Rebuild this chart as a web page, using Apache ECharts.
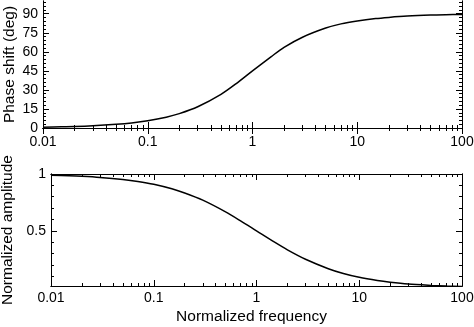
<!DOCTYPE html>
<html>
<head>
<meta charset="utf-8">
<script src="https://cdn.jsdelivr.net/npm/echarts@6/dist/echarts.min.js"></script>
<style>
    html, body { margin: 0; padding: 0; background: #fff; }
    #main { width: 474px; height: 327px; }
</style>
</head>
<body>
<div id="main"></div>
<script>
// normalized frequency samples
const freq = [0.01, 0.015, 0.02, 0.03, 0.05, 0.07, 0.1, 0.15, 0.2, 0.3, 0.5, 0.7, 1,
    1.5, 2, 3, 5, 7, 10, 15, 20, 30, 50, 70, 100];
// phase shift in degrees
const phase = [0.6, 0.9, 1.1, 1.7, 2.9, 4, 5.7, 8.5, 11.3, 16.7, 26.5, 35, 45,
    56, 63.5, 71.5, 78.7, 82, 84.3, 86.2, 87.1, 88.1, 88.9, 89.2, 89.4];
// normalized amplitude
const amplitude = [0.99, 0.985, 0.98, 0.97, 0.952, 0.935, 0.91, 0.87, 0.833, 0.77, 0.667, 0.588, 0.5,
    0.4, 0.333, 0.25, 0.167, 0.125, 0.091, 0.063, 0.048, 0.032, 0.02, 0.014, 0.01];

// tick values
const freqMajor = [0.01, 0.1, 1, 10, 100];
const freqMinor = [];
[0.01, 0.1, 1, 10].forEach(function (d) {
    for (let k = 2; k <= 9; k++) freqMinor.push(+(k * d).toPrecision(3));
});
const phaseMajor = [0, 15, 30, 45, 60, 75, 90];
const phaseMinor = [];
for (let v = 3; v < 100; v += 3) {
    if (v % 15 !== 0) phaseMinor.push(v);
}
const ampMajor = [0.5, 1];
const ampMinor = [0.1, 0.2, 0.3, 0.4, 0.6, 0.7, 0.8, 0.9];

const font = "'Liberation Sans', Arial, sans-serif";
const ink = '#000';

function xAxis(grid, pos, ticks, len, labels, extra) {
    return Object.assign({
        type: 'log',
        logBase: 10,
        gridIndex: grid,
        position: pos,
        min: 0.01,
        max: 100,
        axisLine: { show: true, lineStyle: { color: ink, width: 1 } },
        axisTick: { show: true, inside: true, length: len, customValues: ticks, lineStyle: { color: ink } },
        axisLabel: labels ? { show: true, customValues: freqMajor, color: ink, fontSize: 14, fontFamily: font, margin: labels,
            formatter: function (v) { return String(v); } } : { show: false },
        splitLine: { show: false },
        minorTick: { show: false }
    }, extra || {});
}

function yAxis(grid, pos, min, max, ticks, len, labels, extra) {
    return Object.assign({
        type: 'value',
        gridIndex: grid,
        position: pos,
        min: min,
        max: max,
        axisLine: { show: true, lineStyle: { color: ink, width: 1 } },
        axisTick: { show: true, inside: true, length: len, customValues: ticks, lineStyle: { color: ink } },
        axisLabel: labels ? { show: true, customValues: labels, color: ink, fontSize: 14, fontFamily: font, margin: 5 } : { show: false },
        splitLine: { show: false }
    }, extra || {});
}

const nameStyle = { color: ink, fontSize: 15.5, fontFamily: font };

let myChart = echarts.init(document.getElementById('main'), null, { renderer: 'canvas' });

myChart.setOption({
    animation: false,
    backgroundColor: '#fff',
    grid: [
        { left: 43, right: 12, top: 1, height: 127, outerBoundsMode: 'none' },
        { left: 51, right: 12, top: 174, height: 112, outerBoundsMode: 'none' }
    ],
    xAxis: [
        xAxis(0, 'bottom', freqMajor, 6, 7),
        xAxis(0, 'top', freqMajor, 6, 0),
        xAxis(0, 'bottom', freqMinor, 3, 0),
        xAxis(0, 'top', freqMinor, 3, 0),
        xAxis(1, 'bottom', freqMajor, 6, 5, {
            name: 'Normalized frequency',
            nameLocation: 'middle',
            nameGap: 23,
            nameMoveOverlap: false,
            nameTextStyle: Object.assign({ padding: [0, 10, 0, 0] }, nameStyle)
        }),
        xAxis(1, 'top', freqMajor, 6, 0),
        xAxis(1, 'bottom', freqMinor, 3, 0),
        xAxis(1, 'top', freqMinor, 3, 0)
    ],
    yAxis: [
        yAxis(0, 'left', 0, 100, phaseMajor, 6, phaseMajor, {
            name: 'Phase shift (deg)',
            nameLocation: 'middle',
            nameGap: 25,
            nameMoveOverlap: false,
            nameTextStyle: nameStyle
        }),
        yAxis(0, 'right', 0, 100, phaseMajor, 6, null),
        yAxis(0, 'left', 0, 100, phaseMinor, 3, null),
        yAxis(0, 'right', 0, 100, phaseMinor, 3, null),
        yAxis(1, 'left', 0.015, 1, ampMajor, 6, ampMajor, {
            name: 'Normalized amplitude',
            nameLocation: 'middle',
            nameGap: 35,
            nameMoveOverlap: false,
            nameTextStyle: nameStyle
        }),
        yAxis(1, 'right', 0.015, 1, ampMajor, 6, null),
        yAxis(1, 'left', 0.015, 1, ampMinor, 3, null),
        yAxis(1, 'right', 0.015, 1, ampMinor, 3, null)
    ],
    series: [
        {
            type: 'line',
            xAxisIndex: 0,
            yAxisIndex: 0,
            showSymbol: false,
            smooth: 0.3,
            clip: true,
            lineStyle: { color: ink, width: 1.5 },
            data: freq.map(function (f, i) { return [f, phase[i]]; })
        },
        {
            type: 'line',
            xAxisIndex: 4,
            yAxisIndex: 4,
            showSymbol: false,
            smooth: 0.3,
            clip: true,
            lineStyle: { color: ink, width: 1.5 },
            data: freq.map(function (f, i) { return [f, amplitude[i]]; })
        }
    ]
});

window.addEventListener('resize', function () {
    myChart.resize();
});
</script>
</body>
</html>
